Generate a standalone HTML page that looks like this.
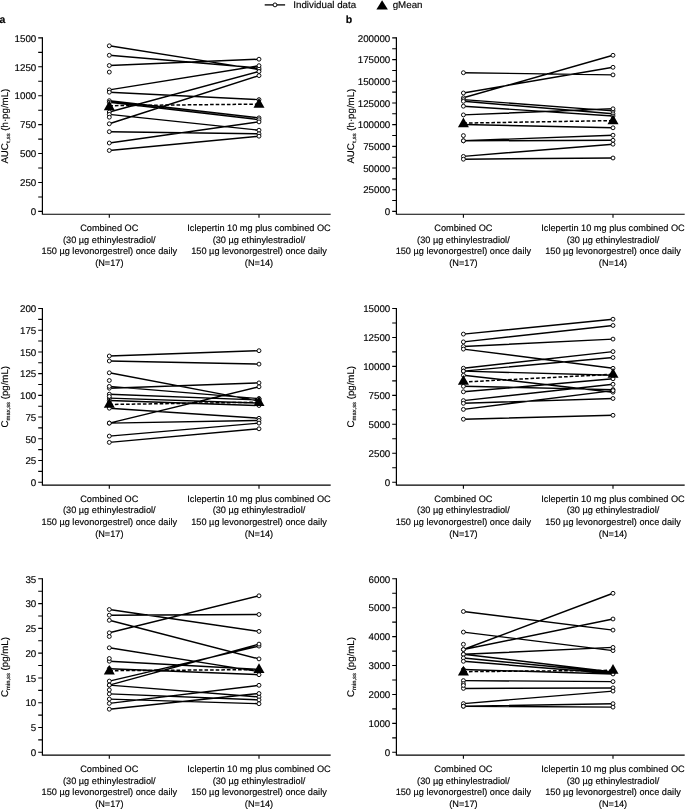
<!DOCTYPE html>
<html><head><meta charset="utf-8"><title>Figure</title>
<style>
html,body{margin:0;padding:0;background:#fff;width:685px;height:809px;overflow:hidden}
svg{display:block;font-family:"Liberation Sans", Arial, Helvetica, sans-serif;fill:#000;text-rendering:geometricPrecision}
text{fill:#000;stroke:#000;stroke-width:0.15px}
</style></head><body>
<svg width="685" height="809" viewBox="0 0 685 809">
<rect width="685" height="809" fill="#fff"/>
<g><path d="M42.4 37.3V214.25H330.7" fill="none" stroke="#000" stroke-width="1.2"/><path d="M38.2 211.4H42.4M38.2 196.94H42.4M38.2 182.48H42.4M38.2 168.03H42.4M38.2 153.57H42.4M38.2 139.11H42.4M38.2 124.65H42.4M38.2 110.19H42.4M38.2 95.73H42.4M38.2 81.28H42.4M38.2 66.82H42.4M38.2 52.36H42.4M38.2 37.9H42.4M109.3 214.25V217.85M259 214.25V217.85" fill="none" stroke="#000" stroke-width="1.1"/><g font-size="9.75" text-anchor="end"><text x="36.3" y="215.15">0</text><text x="36.3" y="186.23">250</text><text x="36.3" y="157.32">500</text><text x="36.3" y="128.4">750</text><text x="36.3" y="99.48">1000</text><text x="36.3" y="70.57">1250</text><text x="36.3" y="41.65">1500</text></g><text transform="translate(7.6 163.6) rotate(-90)" font-size="9.7">AUC<tspan font-size="5.8" dy="2.6">τ,ss</tspan><tspan dy="-2.6"> (h·pg/mL)</tspan></text><g font-size="9.2" text-anchor="middle"><text x="109.3" y="230.85">Combined OC</text><text x="109.3" y="242.65">(30 µg ethinylestradiol/</text><text x="109.3" y="254.45">150 µg levonorgestrel) once daily</text><text x="109.3" y="266.25">(N=17)</text><text x="259" y="230.85">Iclepertin 10 mg plus combined OC</text><text x="259" y="242.65">(30 µg ethinylestradiol/</text><text x="259" y="254.45">150 µg levonorgestrel) once daily</text><text x="259" y="266.25">(N=14)</text></g><path d="M109.3 45.8L259 69.6M109.3 55.3L259 68.1M109.3 65.5L259 59.2M109.3 89.9L259 65.7M109.3 92.2L259 99.6M109.3 100.7L259 117.9M109.3 102.3L259 119.7M109.3 112L259 71.5M109.3 114.4L259 130.2M109.3 123.8L259 75.6M109.3 131.7L259 133.8M109.3 143L259 121.9M109.3 150.5L259 136.2" fill="none" stroke="#000" stroke-width="1.45"/><g fill="#fff" stroke="#000" stroke-width="0.95"><circle cx="109.3" cy="45.8" r="1.95"/><circle cx="259" cy="69.6" r="1.95"/><circle cx="109.3" cy="55.3" r="1.95"/><circle cx="259" cy="68.1" r="1.95"/><circle cx="109.3" cy="65.5" r="1.95"/><circle cx="259" cy="59.2" r="1.95"/><circle cx="109.3" cy="89.9" r="1.95"/><circle cx="259" cy="65.7" r="1.95"/><circle cx="109.3" cy="92.2" r="1.95"/><circle cx="259" cy="99.6" r="1.95"/><circle cx="109.3" cy="100.7" r="1.95"/><circle cx="259" cy="117.9" r="1.95"/><circle cx="109.3" cy="102.3" r="1.95"/><circle cx="259" cy="119.7" r="1.95"/><circle cx="109.3" cy="112" r="1.95"/><circle cx="259" cy="71.5" r="1.95"/><circle cx="109.3" cy="114.4" r="1.95"/><circle cx="259" cy="130.2" r="1.95"/><circle cx="109.3" cy="123.8" r="1.95"/><circle cx="259" cy="75.6" r="1.95"/><circle cx="109.3" cy="131.7" r="1.95"/><circle cx="259" cy="133.8" r="1.95"/><circle cx="109.3" cy="143" r="1.95"/><circle cx="259" cy="121.9" r="1.95"/><circle cx="109.3" cy="150.5" r="1.95"/><circle cx="259" cy="136.2" r="1.95"/><circle cx="109.3" cy="72.1" r="1.95"/><circle cx="109.3" cy="117.2" r="1.95"/></g><path d="M109.3 105.7L259 104.1" stroke="#000" stroke-width="1.5" stroke-dasharray="3.6 2" fill="none"/><path d="M109.3 100.5L114.8 110.2L103.8 110.2Z" fill="#000"/><path d="M259 98L264.5 107.7L253.5 107.7Z" fill="#000"/></g>
<g><path d="M396.4 37.3V214.25H684.7" fill="none" stroke="#000" stroke-width="1.2"/><path d="M392.2 211.4H396.4M392.2 200.56H396.4M392.2 189.71H396.4M392.2 178.87H396.4M392.2 168.03H396.4M392.2 157.18H396.4M392.2 146.34H396.4M392.2 135.49H396.4M392.2 124.65H396.4M392.2 113.81H396.4M392.2 102.96H396.4M392.2 92.12H396.4M392.2 81.28H396.4M392.2 70.43H396.4M392.2 59.59H396.4M392.2 48.74H396.4M392.2 37.9H396.4M463.4 214.25V217.85M613 214.25V217.85" fill="none" stroke="#000" stroke-width="1.1"/><g font-size="9.75" text-anchor="end"><text x="390.3" y="215.15">0</text><text x="390.3" y="193.46">25000</text><text x="390.3" y="171.78">50000</text><text x="390.3" y="150.09">75000</text><text x="390.3" y="128.4">100000</text><text x="390.3" y="106.71">125000</text><text x="390.3" y="85.03">150000</text><text x="390.3" y="63.34">175000</text><text x="390.3" y="41.65">200000</text></g><text transform="translate(353.5 163.6) rotate(-90)" font-size="9.7">AUC<tspan font-size="5.8" dy="2.6">τ,ss</tspan><tspan dy="-2.6"> (h·pg/mL)</tspan></text><g font-size="9.2" text-anchor="middle"><text x="463.4" y="230.85">Combined OC</text><text x="463.4" y="242.65">(30 µg ethinylestradiol/</text><text x="463.4" y="254.45">150 µg levonorgestrel) once daily</text><text x="463.4" y="266.25">(N=17)</text><text x="613" y="230.85">Iclepertin 10 mg plus combined OC</text><text x="613" y="242.65">(30 µg ethinylestradiol/</text><text x="613" y="254.45">150 µg levonorgestrel) once daily</text><text x="613" y="266.25">(N=14)</text></g><path d="M463.4 72.7L613 74.9M463.4 93L613 67.3M463.4 97.8L613 55.3M463.4 99.6L613 110.9M463.4 101.3L613 113.8M463.4 106.2L613 116M463.4 114.9L613 108.8M463.4 124.5L613 127.8M463.4 140.8L613 135.2M463.4 140.8L613 140.3M463.4 156.4L613 144.2M463.4 159.2L613 158" fill="none" stroke="#000" stroke-width="1.45"/><g fill="#fff" stroke="#000" stroke-width="0.95"><circle cx="463.4" cy="72.7" r="1.95"/><circle cx="613" cy="74.9" r="1.95"/><circle cx="463.4" cy="93" r="1.95"/><circle cx="613" cy="67.3" r="1.95"/><circle cx="463.4" cy="97.8" r="1.95"/><circle cx="613" cy="55.3" r="1.95"/><circle cx="463.4" cy="99.6" r="1.95"/><circle cx="613" cy="110.9" r="1.95"/><circle cx="463.4" cy="101.3" r="1.95"/><circle cx="613" cy="113.8" r="1.95"/><circle cx="463.4" cy="106.2" r="1.95"/><circle cx="613" cy="116" r="1.95"/><circle cx="463.4" cy="114.9" r="1.95"/><circle cx="613" cy="108.8" r="1.95"/><circle cx="463.4" cy="124.5" r="1.95"/><circle cx="613" cy="127.8" r="1.95"/><circle cx="463.4" cy="140.8" r="1.95"/><circle cx="613" cy="135.2" r="1.95"/><circle cx="463.4" cy="140.8" r="1.95"/><circle cx="613" cy="140.3" r="1.95"/><circle cx="463.4" cy="156.4" r="1.95"/><circle cx="613" cy="144.2" r="1.95"/><circle cx="463.4" cy="159.2" r="1.95"/><circle cx="613" cy="158" r="1.95"/><circle cx="463.4" cy="135.6" r="1.95"/></g><path d="M463.4 123.1L613 120.6" stroke="#000" stroke-width="1.5" stroke-dasharray="3.6 2" fill="none"/><path d="M463.4 117.6L468.9 127.3L457.9 127.3Z" fill="#000"/><path d="M613 114.6L618.5 124.3L607.5 124.3Z" fill="#000"/></g>
<g><path d="M42.4 307.9V485.05H330.7" fill="none" stroke="#000" stroke-width="1.2"/><path d="M38.2 482.2H42.4M38.2 471.34H42.4M38.2 460.49H42.4M38.2 449.63H42.4M38.2 438.77H42.4M38.2 427.92H42.4M38.2 417.06H42.4M38.2 406.21H42.4M38.2 395.35H42.4M38.2 384.49H42.4M38.2 373.64H42.4M38.2 362.78H42.4M38.2 351.93H42.4M38.2 341.07H42.4M38.2 330.21H42.4M38.2 319.36H42.4M38.2 308.5H42.4M109.3 485.05V488.65M259 485.05V488.65" fill="none" stroke="#000" stroke-width="1.1"/><g font-size="9.75" text-anchor="end"><text x="36.3" y="485.95">0</text><text x="36.3" y="464.24">25</text><text x="36.3" y="442.52">50</text><text x="36.3" y="420.81">75</text><text x="36.3" y="399.1">100</text><text x="36.3" y="377.39">125</text><text x="36.3" y="355.68">150</text><text x="36.3" y="333.96">175</text><text x="36.3" y="312.25">200</text></g><text transform="translate(7.6 427.4) rotate(-90)" font-size="9.7">C<tspan font-size="5.8" dy="2.6">max,ss</tspan><tspan dy="-2.6"> (pg/mL)</tspan></text><g font-size="9.2" text-anchor="middle"><text x="109.3" y="501.65">Combined OC</text><text x="109.3" y="513.45">(30 µg ethinylestradiol/</text><text x="109.3" y="525.25">150 µg levonorgestrel) once daily</text><text x="109.3" y="537.05">(N=17)</text><text x="259" y="501.65">Iclepertin 10 mg plus combined OC</text><text x="259" y="513.45">(30 µg ethinylestradiol/</text><text x="259" y="525.25">150 µg levonorgestrel) once daily</text><text x="259" y="537.05">(N=14)</text></g><path d="M109.3 356L259 350.7M109.3 361L259 364.1M109.3 372.8L259 401.2M109.3 388.2L259 382.9M109.3 386.4L259 398.6M109.3 394.2L259 400M109.3 398.1L259 403M109.3 400.5L259 405.5M109.3 408.2L259 418.3M109.3 423.1L259 386.8M109.3 423.1L259 420.5M109.3 436.1L259 423.1M109.3 442.4L259 428.8" fill="none" stroke="#000" stroke-width="1.45"/><g fill="#fff" stroke="#000" stroke-width="0.95"><circle cx="109.3" cy="356" r="1.95"/><circle cx="259" cy="350.7" r="1.95"/><circle cx="109.3" cy="361" r="1.95"/><circle cx="259" cy="364.1" r="1.95"/><circle cx="109.3" cy="372.8" r="1.95"/><circle cx="259" cy="401.2" r="1.95"/><circle cx="109.3" cy="388.2" r="1.95"/><circle cx="259" cy="382.9" r="1.95"/><circle cx="109.3" cy="386.4" r="1.95"/><circle cx="259" cy="398.6" r="1.95"/><circle cx="109.3" cy="394.2" r="1.95"/><circle cx="259" cy="400" r="1.95"/><circle cx="109.3" cy="398.1" r="1.95"/><circle cx="259" cy="403" r="1.95"/><circle cx="109.3" cy="400.5" r="1.95"/><circle cx="259" cy="405.5" r="1.95"/><circle cx="109.3" cy="408.2" r="1.95"/><circle cx="259" cy="418.3" r="1.95"/><circle cx="109.3" cy="423.1" r="1.95"/><circle cx="259" cy="386.8" r="1.95"/><circle cx="109.3" cy="423.1" r="1.95"/><circle cx="259" cy="420.5" r="1.95"/><circle cx="109.3" cy="436.1" r="1.95"/><circle cx="259" cy="423.1" r="1.95"/><circle cx="109.3" cy="442.4" r="1.95"/><circle cx="259" cy="428.8" r="1.95"/><circle cx="109.3" cy="380.5" r="1.95"/><circle cx="109.3" cy="396.4" r="1.95"/><circle cx="259" cy="398.8" r="1.95"/></g><path d="M109.3 404.5L259 402.2" stroke="#000" stroke-width="1.5" stroke-dasharray="3.6 2" fill="none"/><path d="M109.3 398.1L114.8 407.8L103.8 407.8Z" fill="#000"/><path d="M259 396.3L264.5 406L253.5 406Z" fill="#000"/></g>
<g><path d="M396.4 307.9V485.05H684.7" fill="none" stroke="#000" stroke-width="1.2"/><path d="M392.2 482.2H396.4M392.2 467.72H396.4M392.2 453.25H396.4M392.2 438.77H396.4M392.2 424.3H396.4M392.2 409.82H396.4M392.2 395.35H396.4M392.2 380.88H396.4M392.2 366.4H396.4M392.2 351.92H396.4M392.2 337.45H396.4M392.2 322.98H396.4M392.2 308.5H396.4M463.4 485.05V488.65M613 485.05V488.65" fill="none" stroke="#000" stroke-width="1.1"/><g font-size="9.75" text-anchor="end"><text x="390.3" y="485.95">0</text><text x="390.3" y="457">2500</text><text x="390.3" y="428.05">5000</text><text x="390.3" y="399.1">7500</text><text x="390.3" y="370.15">10000</text><text x="390.3" y="341.2">12500</text><text x="390.3" y="312.25">15000</text></g><text transform="translate(353.5 427.4) rotate(-90)" font-size="9.7">C<tspan font-size="5.8" dy="2.6">max,ss</tspan><tspan dy="-2.6"> (pg/mL)</tspan></text><g font-size="9.2" text-anchor="middle"><text x="463.4" y="501.65">Combined OC</text><text x="463.4" y="513.45">(30 µg ethinylestradiol/</text><text x="463.4" y="525.25">150 µg levonorgestrel) once daily</text><text x="463.4" y="537.05">(N=17)</text><text x="613" y="501.65">Iclepertin 10 mg plus combined OC</text><text x="613" y="513.45">(30 µg ethinylestradiol/</text><text x="613" y="525.25">150 µg levonorgestrel) once daily</text><text x="613" y="537.05">(N=14)</text></g><path d="M463.4 334.1L613 319.2M463.4 341.9L613 325.5M463.4 346.5L613 339.1M463.4 349.1L613 368.3M463.4 368.2L613 351.6M463.4 371.1L613 357.5M463.4 371.1L613 375.3M463.4 375.3L613 392.2M463.4 386.3L613 389.6M463.4 391.8L613 378.8M463.4 400.6L613 384.3M463.4 403.3L613 398.5M463.4 409.4L613 390.6M463.4 419.2L613 415.3" fill="none" stroke="#000" stroke-width="1.45"/><g fill="#fff" stroke="#000" stroke-width="0.95"><circle cx="463.4" cy="334.1" r="1.95"/><circle cx="613" cy="319.2" r="1.95"/><circle cx="463.4" cy="341.9" r="1.95"/><circle cx="613" cy="325.5" r="1.95"/><circle cx="463.4" cy="346.5" r="1.95"/><circle cx="613" cy="339.1" r="1.95"/><circle cx="463.4" cy="349.1" r="1.95"/><circle cx="613" cy="368.3" r="1.95"/><circle cx="463.4" cy="368.2" r="1.95"/><circle cx="613" cy="351.6" r="1.95"/><circle cx="463.4" cy="371.1" r="1.95"/><circle cx="613" cy="357.5" r="1.95"/><circle cx="463.4" cy="371.1" r="1.95"/><circle cx="613" cy="375.3" r="1.95"/><circle cx="463.4" cy="375.3" r="1.95"/><circle cx="613" cy="392.2" r="1.95"/><circle cx="463.4" cy="386.3" r="1.95"/><circle cx="613" cy="389.6" r="1.95"/><circle cx="463.4" cy="391.8" r="1.95"/><circle cx="613" cy="378.8" r="1.95"/><circle cx="463.4" cy="400.6" r="1.95"/><circle cx="613" cy="384.3" r="1.95"/><circle cx="463.4" cy="403.3" r="1.95"/><circle cx="613" cy="398.5" r="1.95"/><circle cx="463.4" cy="409.4" r="1.95"/><circle cx="613" cy="390.6" r="1.95"/><circle cx="463.4" cy="419.2" r="1.95"/><circle cx="613" cy="415.3" r="1.95"/></g><path d="M463.4 382L613 374.3" stroke="#000" stroke-width="1.5" stroke-dasharray="3.6 2" fill="none"/><path d="M463.4 375.1L468.9 384.8L457.9 384.8Z" fill="#000"/><path d="M613 368.1L618.5 377.8L607.5 377.8Z" fill="#000"/></g>
<g><path d="M42.4 578.2V755.15H330.7" fill="none" stroke="#000" stroke-width="1.2"/><path d="M38.2 752.3H42.4M38.2 739.91H42.4M38.2 727.51H42.4M38.2 715.12H42.4M38.2 702.73H42.4M38.2 690.34H42.4M38.2 677.94H42.4M38.2 665.55H42.4M38.2 653.16H42.4M38.2 640.76H42.4M38.2 628.37H42.4M38.2 615.98H42.4M38.2 603.59H42.4M38.2 591.19H42.4M38.2 578.8H42.4M109.3 755.15V758.75M259 755.15V758.75" fill="none" stroke="#000" stroke-width="1.1"/><g font-size="9.75" text-anchor="end"><text x="36.3" y="756.05">0</text><text x="36.3" y="731.26">5</text><text x="36.3" y="706.48">10</text><text x="36.3" y="681.69">15</text><text x="36.3" y="656.91">20</text><text x="36.3" y="632.12">25</text><text x="36.3" y="607.34">30</text><text x="36.3" y="582.55">35</text></g><text transform="translate(7.6 696.9) rotate(-90)" font-size="9.7">C<tspan font-size="5.8" dy="2.6">min,ss</tspan><tspan dy="-2.6"> (pg/mL)</tspan></text><g font-size="9.2" text-anchor="middle"><text x="109.3" y="771.75">Combined OC</text><text x="109.3" y="783.55">(30 µg ethinylestradiol/</text><text x="109.3" y="795.35">150 µg levonorgestrel) once daily</text><text x="109.3" y="807.15">(N=17)</text><text x="259" y="771.75">Iclepertin 10 mg plus combined OC</text><text x="259" y="783.55">(30 µg ethinylestradiol/</text><text x="259" y="795.35">150 µg levonorgestrel) once daily</text><text x="259" y="807.15">(N=14)</text></g><path d="M109.3 609.5L259 631.4M109.3 615.2L259 614.5M109.3 620.3L259 658.9M109.3 632.8L259 595.8M109.3 647.8L259 671.6M109.3 661.2L259 669.5M109.3 668.7L259 674.7M109.3 681.1L259 646.1M109.3 685.1L259 644.1M109.3 685.1L259 696.9M109.3 693.9L259 699.9M109.3 699.1L259 703.7M109.3 703.4L259 685.3M109.3 709.2L259 693.5" fill="none" stroke="#000" stroke-width="1.45"/><g fill="#fff" stroke="#000" stroke-width="0.95"><circle cx="109.3" cy="609.5" r="1.95"/><circle cx="259" cy="631.4" r="1.95"/><circle cx="109.3" cy="615.2" r="1.95"/><circle cx="259" cy="614.5" r="1.95"/><circle cx="109.3" cy="620.3" r="1.95"/><circle cx="259" cy="658.9" r="1.95"/><circle cx="109.3" cy="632.8" r="1.95"/><circle cx="259" cy="595.8" r="1.95"/><circle cx="109.3" cy="647.8" r="1.95"/><circle cx="259" cy="671.6" r="1.95"/><circle cx="109.3" cy="661.2" r="1.95"/><circle cx="259" cy="669.5" r="1.95"/><circle cx="109.3" cy="668.7" r="1.95"/><circle cx="259" cy="674.7" r="1.95"/><circle cx="109.3" cy="681.1" r="1.95"/><circle cx="259" cy="646.1" r="1.95"/><circle cx="109.3" cy="685.1" r="1.95"/><circle cx="259" cy="644.1" r="1.95"/><circle cx="109.3" cy="685.1" r="1.95"/><circle cx="259" cy="696.9" r="1.95"/><circle cx="109.3" cy="693.9" r="1.95"/><circle cx="259" cy="699.9" r="1.95"/><circle cx="109.3" cy="699.1" r="1.95"/><circle cx="259" cy="703.7" r="1.95"/><circle cx="109.3" cy="703.4" r="1.95"/><circle cx="259" cy="685.3" r="1.95"/><circle cx="109.3" cy="709.2" r="1.95"/><circle cx="259" cy="693.5" r="1.95"/><circle cx="109.3" cy="636.5" r="1.95"/><circle cx="109.3" cy="658.5" r="1.95"/><circle cx="109.3" cy="689.9" r="1.95"/></g><path d="M109.3 670.7L259 669.6" stroke="#000" stroke-width="1.5" stroke-dasharray="3.6 2" fill="none"/><path d="M109.3 664.9L114.8 674.6L103.8 674.6Z" fill="#000"/><path d="M259 663.3L264.5 673L253.5 673Z" fill="#000"/></g>
<g><path d="M396.4 578.2V755.15H684.7" fill="none" stroke="#000" stroke-width="1.2"/><path d="M392.2 752.3H396.4M392.2 737.84H396.4M392.2 723.38H396.4M392.2 708.92H396.4M392.2 694.47H396.4M392.2 680.01H396.4M392.2 665.55H396.4M392.2 651.09H396.4M392.2 636.63H396.4M392.2 622.17H396.4M392.2 607.72H396.4M392.2 593.26H396.4M392.2 578.8H396.4M463.4 755.15V758.75M613 755.15V758.75" fill="none" stroke="#000" stroke-width="1.1"/><g font-size="9.75" text-anchor="end"><text x="390.3" y="756.05">0</text><text x="390.3" y="727.13">1000</text><text x="390.3" y="698.22">2000</text><text x="390.3" y="669.3">3000</text><text x="390.3" y="640.38">4000</text><text x="390.3" y="611.47">5000</text><text x="390.3" y="582.55">6000</text></g><text transform="translate(353.5 696.9) rotate(-90)" font-size="9.7">C<tspan font-size="5.8" dy="2.6">min,ss</tspan><tspan dy="-2.6"> (pg/mL)</tspan></text><g font-size="9.2" text-anchor="middle"><text x="463.4" y="771.75">Combined OC</text><text x="463.4" y="783.55">(30 µg ethinylestradiol/</text><text x="463.4" y="795.35">150 µg levonorgestrel) once daily</text><text x="463.4" y="807.15">(N=17)</text><text x="613" y="771.75">Iclepertin 10 mg plus combined OC</text><text x="613" y="783.55">(30 µg ethinylestradiol/</text><text x="613" y="795.35">150 µg levonorgestrel) once daily</text><text x="613" y="807.15">(N=14)</text></g><path d="M463.4 611.5L613 630.1M463.4 632.1L613 650.6M463.4 649.5L613 593.3M463.4 649.5L613 619M463.4 654.3L613 647.4M463.4 654.3L613 672M463.4 658L613 672.5M463.4 661.3L613 673.5M463.4 669.5L613 674M463.4 680.6L613 681.6M463.4 688.4L613 687.9M463.4 703.6L613 691.1M463.4 706.2L613 703.7M463.4 706.2L613 707.1" fill="none" stroke="#000" stroke-width="1.45"/><g fill="#fff" stroke="#000" stroke-width="0.95"><circle cx="463.4" cy="611.5" r="1.95"/><circle cx="613" cy="630.1" r="1.95"/><circle cx="463.4" cy="632.1" r="1.95"/><circle cx="613" cy="650.6" r="1.95"/><circle cx="463.4" cy="649.5" r="1.95"/><circle cx="613" cy="593.3" r="1.95"/><circle cx="463.4" cy="649.5" r="1.95"/><circle cx="613" cy="619" r="1.95"/><circle cx="463.4" cy="654.3" r="1.95"/><circle cx="613" cy="647.4" r="1.95"/><circle cx="463.4" cy="654.3" r="1.95"/><circle cx="613" cy="672" r="1.95"/><circle cx="463.4" cy="658" r="1.95"/><circle cx="613" cy="672.5" r="1.95"/><circle cx="463.4" cy="661.3" r="1.95"/><circle cx="613" cy="673.5" r="1.95"/><circle cx="463.4" cy="669.5" r="1.95"/><circle cx="613" cy="674" r="1.95"/><circle cx="463.4" cy="680.6" r="1.95"/><circle cx="613" cy="681.6" r="1.95"/><circle cx="463.4" cy="688.4" r="1.95"/><circle cx="613" cy="687.9" r="1.95"/><circle cx="463.4" cy="703.6" r="1.95"/><circle cx="613" cy="691.1" r="1.95"/><circle cx="463.4" cy="706.2" r="1.95"/><circle cx="613" cy="703.7" r="1.95"/><circle cx="463.4" cy="706.2" r="1.95"/><circle cx="613" cy="707.1" r="1.95"/><circle cx="463.4" cy="644.3" r="1.95"/><circle cx="463.4" cy="683.6" r="1.95"/><circle cx="463.4" cy="685.4" r="1.95"/></g><path d="M463.4 671.7L613 670.3" stroke="#000" stroke-width="1.5" stroke-dasharray="3.6 2" fill="none"/><path d="M463.4 665.7L468.9 675.4L457.9 675.4Z" fill="#000"/><path d="M613 664L618.5 673.7L607.5 673.7Z" fill="#000"/></g>
<path d="M264.7 4.9H285.1" stroke="#000" stroke-width="1.3"/>
<circle cx="275" cy="4.9" r="1.95" fill="#fff" stroke="#000" stroke-width="0.95"/>
<text x="293.3" y="8.3" font-size="9.75">Individual data</text>
<path d="M382.1 0.2L387.9 9.6L376.4 9.6Z" fill="#000"/>
<text x="392.7" y="8.3" font-size="9.75">gMean</text>
<text x="-0.6" y="22.6" font-size="10.5" font-weight="bold">a</text>
<text x="345.7" y="22.8" font-size="10.5" font-weight="bold">b</text>
</svg>
</body></html>
